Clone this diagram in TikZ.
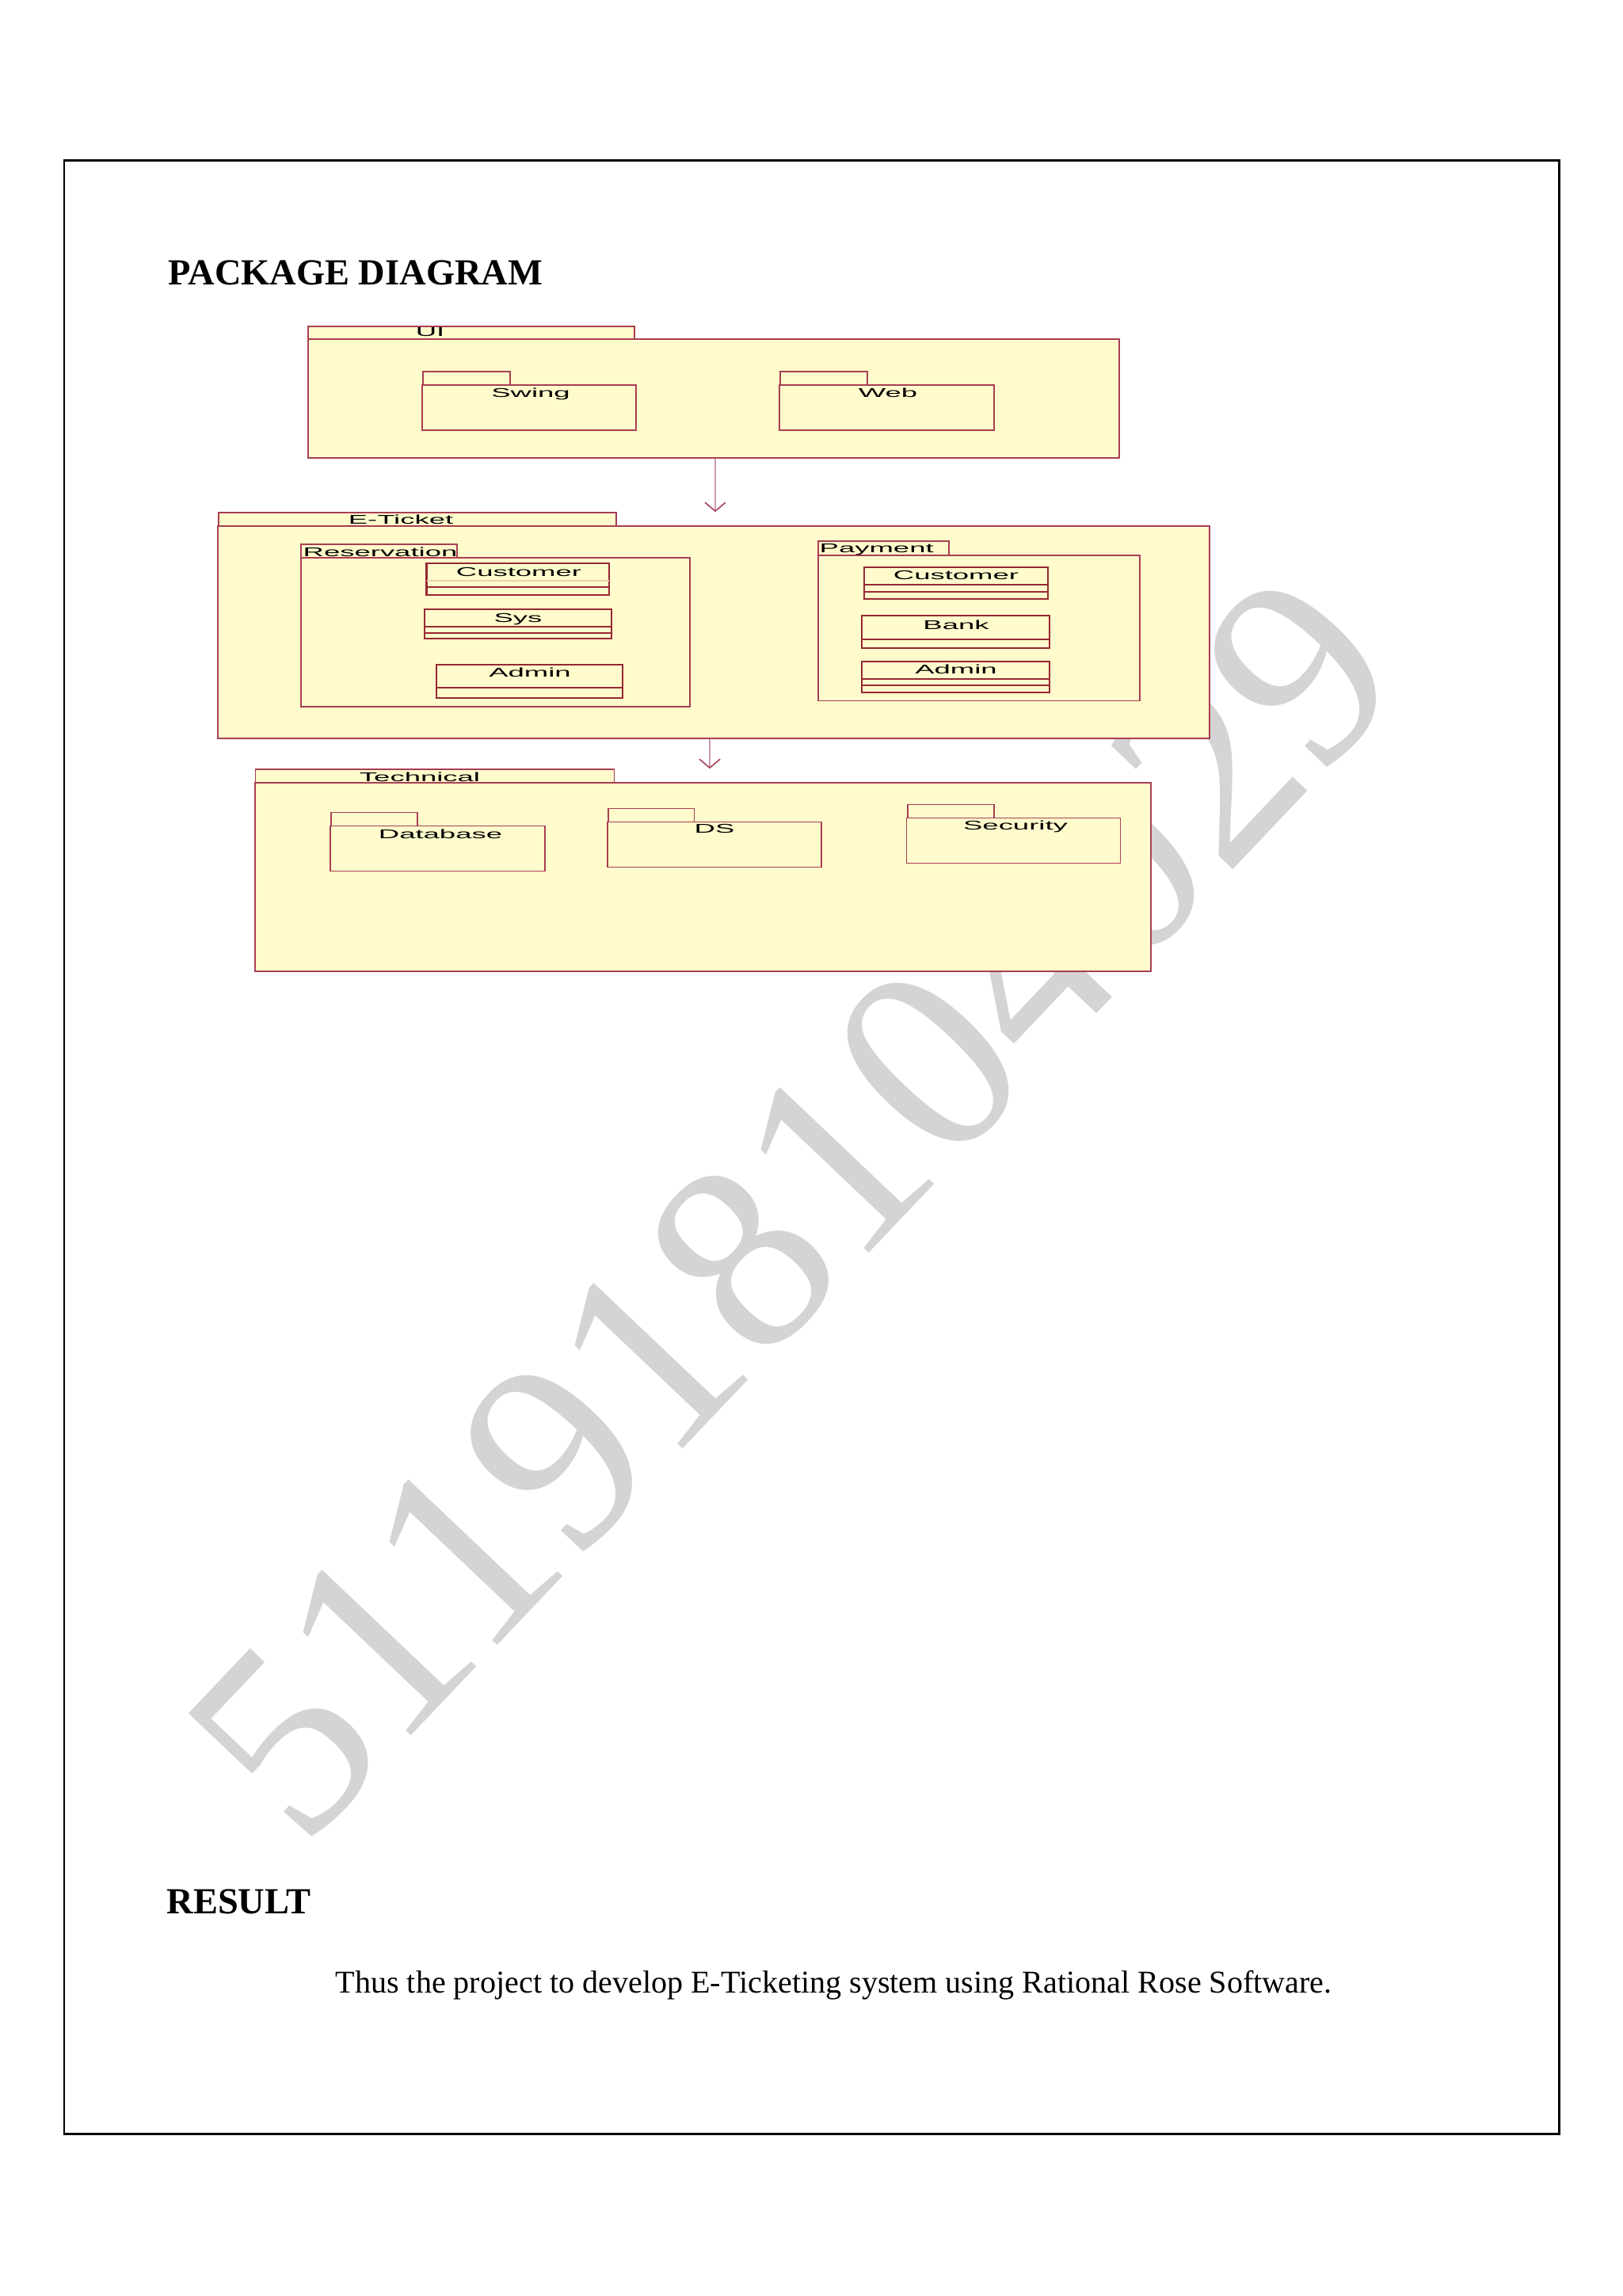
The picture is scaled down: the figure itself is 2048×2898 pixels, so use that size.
\documentclass[tikz,border=0pt]{standalone}
\usepackage{fontspec}
\setmainfont{Liberation Serif}
\newfontfamily\rosefont[FakeStretch=2.28]{Liberation Sans}
\usetikzlibrary{arrows.meta}
\usetikzlibrary{fit}
\definecolor{pkgyellow}{RGB}{255,251,204}
\definecolor{pkgred}{RGB}{168,62,84}
\definecolor{classred}{RGB}{150,40,52}
\definecolor{deppink}{RGB}{205,155,178}
\definecolor{markgray}{RGB}{212,212,212}
\tikzset{pkgbody/.style = {rectangle, draw=pkgred, fill=pkgyellow,
                           line width=0.45pt, inner sep=0pt}}
\tikzset{classbox/.style = {rectangle, draw=classred, fill=pkgyellow,
                            line width=0.6pt, inner sep=0pt}}
\tikzset{classline/.style = {draw=classred, line width=0.6pt}}
\tikzset{rosetext/.style = {font=\rosefont\fontsize{4.55}{5}\selectfont,
                            inner sep=0pt, anchor=base}}
\tikzset{depends/.style = {draw=deppink, line width=0.35pt,
                           -{Straight Barb[length=0.11cm, width=0.26cm,
                                           color=pkgred, line width=0.45pt]}}}

\begin{document}
\begin{tikzpicture}[x=0.01cm, y=-0.01cm]
      \useasboundingbox (0, 0) rectangle (2048, 2898);
      % watermark
      \node [markgray, rotate=46.5, inner sep=0pt,
             font=\fontsize{97}{97}\selectfont] (mark) at (1000, 1522) {511918104029};
      \draw [line width=0.85pt] (81, 203) rectangle (1968, 2693);
      \node [anchor=base west, inner sep=0pt, font=\bfseries\fontsize{13.2}{15}\selectfont]
            (title) at (212, 360) {PACKAGE DIAGRAM};
      % UI
      \node [pkgbody, fit={(389, 428) (1413, 578)}] (ui) {};
      \node [pkgbody, fit={(389, 412) (801, 428)}] (ui-tab) {};
      \node [rosetext] at (543, 425) {UI};
      \node [pkgbody, fit={(533, 486) (803, 543)}] (swing) {};
      \node [pkgbody, fit={(534, 469) (644, 486)}] (swing-tab) {};
      \node [rosetext] at (670, 501.5) {Swing};
      \node [pkgbody, fit={(984, 486) (1255, 543)}] (web) {};
      \node [pkgbody, fit={(985, 469) (1095, 486)}] (web-tab) {};
      \node [rosetext] at (1121, 501.5) {Web};
      % E-Ticket
      \node [pkgbody, fit={(275, 664) (1527, 932)}] (eticket) {};
      \node [pkgbody, fit={(276, 647) (778, 664)}] (eticket-tab) {};
      \node [rosetext] at (506, 661.5) {E-Ticket};
      \node [pkgbody, fit={(380, 704) (871, 892)}] (reservation) {};
      \node [pkgbody, fit={(380, 687) (577, 704)}] (reservation-tab) {};
      \node [rosetext, anchor=base west] at (382, 702.5) {Reservation};
      \node [pkgbody, fit={(1033, 701) (1439, 884.5)}] (payment) {};
      \node [pkgbody, fit={(1033, 683) (1198, 701)}] (payment-tab) {};
      \node [rosetext, anchor=base west] at (1034, 698) {Payment};
      % classes
      \node [classbox, fit={(538.5, 711) (769, 751)}] (res-customer) {};
      \draw [classline, draw=pkgyellow!80!classred] (538.5, 733) -- (769, 733);
      \draw [classline] (538.5, 741) -- (769, 741);
      \node [rosetext] at (655, 728) {Customer};
      \node [classbox, fit={(536, 769.3) (771.7, 806)}] (res-sys) {};
      \draw [classline] (536, 790.7) -- (771.7, 790.7);
      \draw [classline] (536, 799) -- (771.7, 799);
      \node [rosetext] at (654, 785.5) {Sys};
      \node [classbox, fit={(550.7, 839) (786, 880.7)}] (res-admin) {};
      \draw [classline] (550.7, 868.3) -- (786, 868.3);
      \node [rosetext] at (669, 855) {Admin};
      \node [classbox, fit={(1090.7, 716) (1322.7, 756)}] (pay-customer) {};
      \draw [classline] (1090.7, 738.3) -- (1322.7, 738.3);
      \draw [classline] (1090.7, 746.7) -- (1322.7, 746.7);
      \node [rosetext] at (1207, 732) {Customer};
      \node [classbox, fit={(1088.3, 777.3) (1325, 818.3)}] (pay-bank) {};
      \draw [classline] (1088.3, 807.3) -- (1325, 807.3);
      \node [rosetext] at (1207, 795) {Bank};
      \node [classbox, fit={(1088.3, 835) (1325, 874)}] (pay-admin) {};
      \draw [classline] (1088.3, 856.7) -- (1325, 856.7);
      \draw [classline] (1088.3, 865) -- (1325, 865);
      \node [rosetext] at (1207, 851) {Admin};
      % Technical
      \node [pkgbody, fit={(322, 988) (1453, 1226)}] (technical) {};
      \node [pkgbody, fit={(322.6, 971) (775.6, 988)}] (technical-tab) {};
      \node [rosetext] at (530, 986.5) {Technical};
      \node [pkgbody, fit={(417, 1042.7) (688, 1099.7)}] (database) {};
      \node [pkgbody, fit={(418, 1025.7) (527, 1042.7)}] (database-tab) {};
      \node [rosetext] at (556, 1058) {Database};
      \node [pkgbody, fit={(767, 1037.3) (1037, 1094.7)}] (ds) {};
      \node [pkgbody, fit={(768, 1020.7) (876.5, 1037.3)}] (ds-tab) {};
      \node [rosetext] at (902, 1051.5) {DS};
      \node [pkgbody, fit={(1144.4, 1032.3) (1414.6, 1089.3)}] (security) {};
      \node [pkgbody, fit={(1146, 1015.7) (1255, 1032.3)}] (security-tab) {};
      \node [rosetext] at (1282, 1047.5) {Security};
      % dependencies
      \draw [depends] ([xshift=0.02cm]ui.south) -- ([xshift=0.02cm]ui.south |- eticket-tab.north);
      \draw [depends] ([xshift=-0.05cm]eticket.south) -- ([xshift=-0.05cm]eticket.south |- technical-tab.north);
      % result
      \node [anchor=base west, inner sep=0pt, font=\bfseries\fontsize{13.2}{15}\selectfont]
            (result) at (210, 2415) {RESULT};
      \node [anchor=base west, inner sep=0pt, font=\fontsize{11.4}{14}\selectfont]
            (conclusion) at (423, 2515) {Thus the project to develop E-Ticketing system using Rational Rose Software.};
    \end{tikzpicture}
\end{document}
